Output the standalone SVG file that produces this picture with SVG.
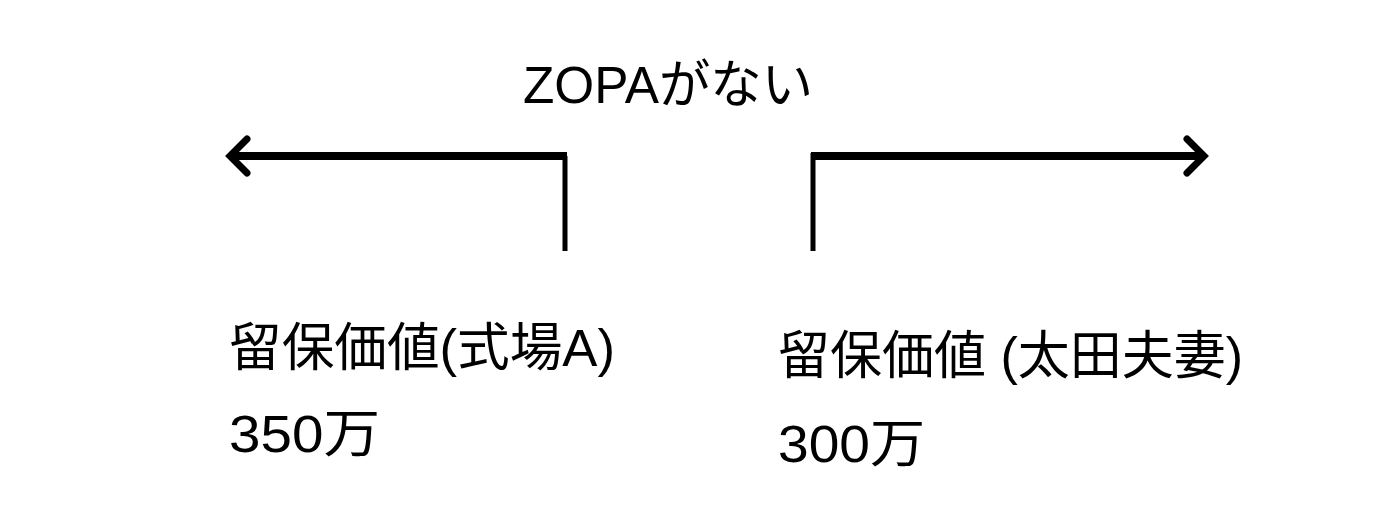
<svg xmlns="http://www.w3.org/2000/svg" width="1380" height="527" viewBox="0 0 1380 527">
<style>
.t{font-family:"Liberation Sans","Noto Sans CJK JP",sans-serif;fill:#000;font-size:52px}
.ln{stroke:#000;fill:none;stroke-linecap:butt}
.hd{stroke:#000;fill:none;stroke-width:7;stroke-linecap:round;stroke-linejoin:miter}
</style>
<rect width="1380" height="527" fill="#fff"/>
<g id="title"><text class="t" x="523" y="103" textLength="290" lengthAdjust="spacingAndGlyphs">ZOPAがない</text></g>
<g id="left-node">
<text class="t" x="229" y="366" textLength="386" lengthAdjust="spacingAndGlyphs">留保価値(式場A)</text>
<text class="t" x="229" y="452" textLength="151" lengthAdjust="spacingAndGlyphs">350万</text>
</g>
<g id="right-node">
<text class="t" x="778" y="374" textLength="465" lengthAdjust="spacingAndGlyphs">留保価値 (太田夫妻)</text>
<text class="t" x="778" y="462" textLength="147" lengthAdjust="spacingAndGlyphs">300万</text>
</g>
<g id="connectors">
<path class="ln" d="M565 251 V156" stroke-width="5"/>
<path class="ln" d="M567 156 H232" stroke-width="8"/>
<path class="hd" d="M247 139 L230 156 L247 173"/>
<path class="ln" d="M813 251 V153" stroke-width="5"/>
<path class="ln" d="M811 156 H1202" stroke-width="8"/>
<path class="hd" d="M1187 139 L1204 156 L1187 173"/>
</g>
</svg>
